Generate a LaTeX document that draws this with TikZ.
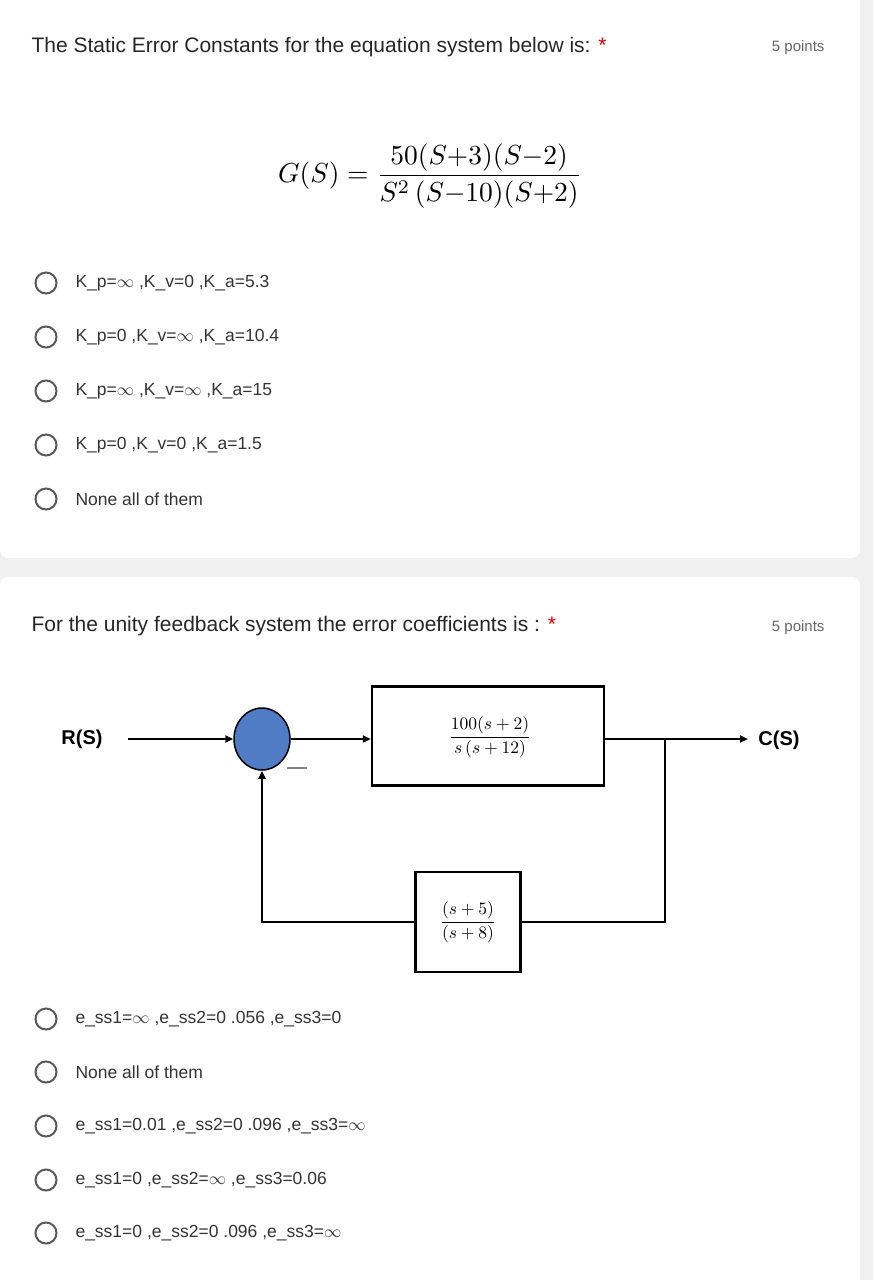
\documentclass[tikz,border=0pt]{standalone}
\usepackage{amsmath}
\usepackage{fontspec}
\setmainfont{Liberation Sans}
\usetikzlibrary{arrows.meta,shapes.geometric}
\begin{document}
\begin{tikzpicture}[x=1pt,y=-1pt,
  opt/.style={anchor=west,font=\fontsize{17.5}{20}\selectfont,text=black!80},
  radio/.style={circle,draw=black!65,line width=2pt,minimum size=21pt,inner sep=0pt},
  qtext/.style={anchor=west,font=\fontsize{21}{24}\selectfont,text=black!85},
  pts/.style={anchor=east,font=\fontsize{15}{17}\selectfont,text=black!60},
  blk/.style={draw,line width=2.4pt,inner sep=0pt},
  wire/.style={line width=2.4pt},
  arr/.style={wire,-{Triangle[length=8pt,width=7pt]}},
  bfrac/.style={scale=1.75,transform shape}]
\useasboundingbox (0,0) rectangle (873,1280);
\fill[gray!12] (0,0) rectangle (873,1280);
\fill[white,rounded corners=8pt] (0,-20) rectangle (860,558);
\fill[white,rounded corners=8pt] (0,577) rectangle (860,1300);
% question 1
\node[qtext] (q1) at (28,47) {The Static Error Constants for the equation system below is: \textcolor{red!80!black}{*}};
\node[pts] (p1) at (828,48) {5 points};
\node[scale=2.75,transform shape] (eq) at (430,176) {$G(S)=\dfrac{50(S{+}3)(S{-}2)}{S^{2}\,(S{-}10)(S{+}2)}$};
\foreach \y/\t [count=\i] in {283/{K\_p=\(\infty\) ,K\_v=0 ,K\_a=5.3},337/{K\_p=0 ,K\_v=\(\infty\) ,K\_a=10.4},391/{K\_p=\(\infty\) ,K\_v=\(\infty\) ,K\_a=15},445/{K\_p=0 ,K\_v=0 ,K\_a=1.5},499/{None all of them}}{
  \node[radio] (ra\i) at (46,\y) {};
  \node[opt] (ta\i) at (72,\y) {\t};
}
% question 2
\node[qtext] (q2) at (28,626) {For the unity feedback system the error coefficients is : \textcolor{red!80!black}{*}};
\node[pts] (p2) at (828,628) {5 points};
% block diagram
\node[font=\bfseries\fontsize{20}{22}\selectfont] (R) at (82,739) {R(S)};
\node[font=\bfseries\fontsize{20}{22}\selectfont] (C) at (779,740) {C(S)};
\node[ellipse,draw,line width=1.5pt,fill={rgb,255:red,79;green,124;blue,196},minimum width=56pt,minimum height=62pt,inner sep=0pt] (sum) at (262,739) {};
\node[blk,minimum width=232pt,minimum height=99pt] (G) at (488,736) {};
\node[bfrac] (Gt) at (490,737) {$\dfrac{100(s+2)}{s\,(s+12)}$};
\node[blk,minimum width=105pt,minimum height=100pt] (H) at (468,922) {};
\node[bfrac] (Ht) at (468,922) {$\dfrac{(s+5)}{(s+8)}$};
\coordinate (rs) at (128,739);
\coordinate (br) at (665,739);
\coordinate (ce) at (748,739);
\coordinate (bb) at (665,922);
\coordinate (lb) at (262,922);
\draw[arr] (rs) -- (sum.west);
\draw[arr] (sum.east) -- (G.west |- sum.east);
\draw[arr] (G.east |- br) -- (ce);
\draw[wire] (br) -- (bb) -- (H.east |- bb);
\draw[arr] (H.west |- lb) -- (lb) -- (sum.south);
\draw[line width=1.5pt,gray] (287,768) -- (307,768);
\foreach \y/\t [count=\i] in {1019/{e\_ss1=\(\infty\) ,e\_ss2=0 .056 ,e\_ss3=0},1072/{None all of them},1126/{e\_ss1=0.01 ,e\_ss2=0 .096 ,e\_ss3=\(\infty\)},1180/{e\_ss1=0 ,e\_ss2=\(\infty\) ,e\_ss3=0.06},1233/{e\_ss1=0 ,e\_ss2=0 .096 ,e\_ss3=\(\infty\)}}{
  \node[radio] (rb\i) at (46,\y) {};
  \node[opt] (tb\i) at (72,\y) {\t};
}
\end{tikzpicture}
\end{document}
